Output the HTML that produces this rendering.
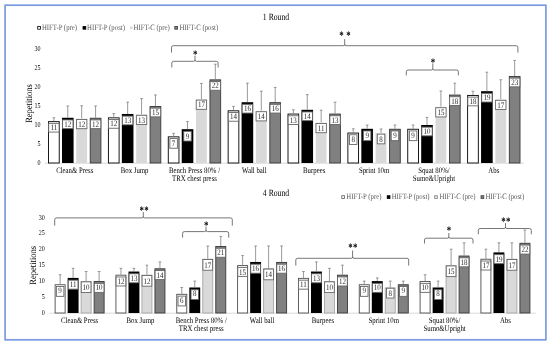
<!DOCTYPE html>
<html><head><meta charset="utf-8"><title>HIFT chart</title>
<style>html,body{margin:0;padding:0;background:#fff}svg{display:block;font-family:"Liberation Serif", serif;text-rendering:geometricPrecision}</style></head>
<body><svg width="550" height="344" viewBox="0 0 550 344">
<rect width="550" height="344" fill="#fff"/>
<rect x="5.1" y="5.2" width="540.8" height="334.6" fill="#fff" stroke="#7a9cdf" stroke-width="1.7"/>
<text transform="translate(276.00,20.30) scale(1.0,1.25)" text-anchor="middle" font-size="7.7" fill="#000">1 Round</text>
<text transform="translate(276.00,196.30) scale(1.0,1.25)" text-anchor="middle" font-size="7.7" fill="#000">4 Round</text>
<line x1="44.8" y1="163.2" x2="523.76" y2="163.2" stroke="#d0d0d0" stroke-width="0.8"/>
<rect x="48.53" y="121.65" width="10.70" height="41.35" fill="#fff" stroke="#000" stroke-width="0.9"/>
<path d="M53.88 121.20V117.78M52.53 117.78H55.23" stroke="#808080" stroke-width="0.8" fill="none"/>
<rect x="48.68" y="123.35"  width="10.40" height="8.70" fill="#fff" stroke="#666" stroke-width="0.9"/>
<text transform="translate(53.88,130.15) scale(1.0,1.2)" text-anchor="middle" font-size="7.0" fill="#262626">11</text>
<rect x="61.98" y="117.78" width="11.60" height="45.22" fill="#000"/>
<path d="M67.78 117.78V106.00M66.44 106.00H69.13" stroke="#808080" stroke-width="0.8" fill="none"/>
<rect x="62.59" y="119.93"  width="10.40" height="8.70" fill="#fff" stroke="#666" stroke-width="0.9"/>
<text transform="translate(67.78,126.73) scale(1.0,1.2)" text-anchor="middle" font-size="7.0" fill="#262626">12</text>
<rect x="76.28" y="118.65" width="10.80" height="44.35" fill="#d9d9d9"/>
<path d="M81.68 118.35V105.81M80.33 105.81H83.03" stroke="#808080" stroke-width="0.8" fill="none"/>
<rect x="76.48" y="119.50"  width="10.40" height="9.20" fill="#fff" stroke="#666" stroke-width="0.9"/>
<text transform="translate(81.68,126.85) scale(1.0,1.2)" text-anchor="middle" font-size="7.0" fill="#262626">12</text>
<rect x="90.23" y="118.23" width="10.70" height="44.77" fill="#808080" stroke="#383838" stroke-width="0.9"/>
<path d="M95.58 117.78V106.00M94.23 106.00H96.93" stroke="#808080" stroke-width="0.8" fill="none"/>
<rect x="90.38" y="119.93"  width="10.40" height="8.70" fill="#fff" stroke="#666" stroke-width="0.9"/>
<text transform="translate(95.58,126.73) scale(1.0,1.2)" text-anchor="middle" font-size="7.0" fill="#262626">12</text>
<rect x="108.40" y="117.85" width="10.70" height="45.15" fill="#fff" stroke="#000" stroke-width="0.9"/>
<path d="M113.75 117.40V113.60M112.40 113.60H115.10" stroke="#808080" stroke-width="0.8" fill="none"/>
<rect x="108.55" y="119.55"  width="10.40" height="8.70" fill="#fff" stroke="#666" stroke-width="0.9"/>
<text transform="translate(113.75,126.35) scale(1.0,1.2)" text-anchor="middle" font-size="7.0" fill="#262626">12</text>
<rect x="121.85" y="113.98" width="11.60" height="49.02" fill="#000"/>
<path d="M127.65 113.98V102.20M126.30 102.20H129.00" stroke="#808080" stroke-width="0.8" fill="none"/>
<rect x="122.45" y="116.13"  width="10.40" height="8.70" fill="#fff" stroke="#666" stroke-width="0.9"/>
<text transform="translate(127.65,122.93) scale(1.0,1.2)" text-anchor="middle" font-size="7.0" fill="#262626">13</text>
<rect x="136.16" y="114.47" width="10.80" height="48.53" fill="#d9d9d9"/>
<path d="M141.56 114.17V98.59M140.21 98.59H142.91" stroke="#808080" stroke-width="0.8" fill="none"/>
<rect x="136.35" y="115.32"  width="10.40" height="9.20" fill="#fff" stroke="#666" stroke-width="0.9"/>
<text transform="translate(141.56,122.67) scale(1.0,1.2)" text-anchor="middle" font-size="7.0" fill="#262626">13</text>
<rect x="150.10" y="106.45" width="10.70" height="56.55" fill="#808080" stroke="#383838" stroke-width="0.9"/>
<path d="M155.45 106.00V94.98M154.10 94.98H156.80" stroke="#808080" stroke-width="0.8" fill="none"/>
<rect x="150.25" y="108.15"  width="10.40" height="8.70" fill="#fff" stroke="#666" stroke-width="0.9"/>
<text transform="translate(155.45,114.95) scale(1.0,1.2)" text-anchor="middle" font-size="7.0" fill="#262626">15</text>
<rect x="168.27" y="136.85" width="10.70" height="26.15" fill="#fff" stroke="#000" stroke-width="0.9"/>
<path d="M173.62 136.40V133.36M172.27 133.36H174.97" stroke="#808080" stroke-width="0.8" fill="none"/>
<rect x="169.87" y="138.55"  width="7.50" height="9.70" fill="#fff" stroke="#666" stroke-width="0.9"/>
<text transform="translate(173.62,145.80) scale(1.0,1.2)" text-anchor="middle" font-size="7.0" fill="#262626">7</text>
<rect x="181.72" y="129.18" width="11.60" height="33.82" fill="#000"/>
<path d="M187.52 129.18V121.58M186.17 121.58H188.87" stroke="#808080" stroke-width="0.8" fill="none"/>
<rect x="183.77" y="131.33"  width="7.50" height="9.70" fill="#fff" stroke="#666" stroke-width="0.9"/>
<text transform="translate(187.52,138.58) scale(1.0,1.2)" text-anchor="middle" font-size="7.0" fill="#262626">9</text>
<rect x="196.02" y="99.27" width="10.80" height="63.73" fill="#d9d9d9"/>
<path d="M201.42 98.97V83.39M200.07 83.39H202.77" stroke="#808080" stroke-width="0.8" fill="none"/>
<rect x="196.22" y="100.12"  width="10.40" height="9.20" fill="#fff" stroke="#666" stroke-width="0.9"/>
<text transform="translate(201.42,107.47) scale(1.0,1.2)" text-anchor="middle" font-size="7.0" fill="#262626">17</text>
<rect x="209.97" y="79.85" width="10.70" height="83.15" fill="#808080" stroke="#383838" stroke-width="0.9"/>
<path d="M215.32 79.40V64.20M213.97 64.20H216.67" stroke="#808080" stroke-width="0.8" fill="none"/>
<rect x="210.12" y="81.55"  width="10.40" height="8.70" fill="#fff" stroke="#666" stroke-width="0.9"/>
<text transform="translate(215.32,88.35) scale(1.0,1.2)" text-anchor="middle" font-size="7.0" fill="#262626">22</text>
<rect x="228.14" y="110.82" width="10.70" height="52.18" fill="#fff" stroke="#000" stroke-width="0.9"/>
<path d="M233.49 110.37V106.38M232.14 106.38H234.84" stroke="#808080" stroke-width="0.8" fill="none"/>
<rect x="228.29" y="112.52"  width="10.40" height="8.70" fill="#fff" stroke="#666" stroke-width="0.9"/>
<text transform="translate(233.49,119.32) scale(1.0,1.2)" text-anchor="middle" font-size="7.0" fill="#262626">14</text>
<rect x="241.59" y="102.20" width="11.60" height="60.80" fill="#000"/>
<path d="M247.39 102.20V83.20M246.04 83.20H248.74" stroke="#808080" stroke-width="0.8" fill="none"/>
<rect x="242.19" y="104.35"  width="10.40" height="8.70" fill="#fff" stroke="#666" stroke-width="0.9"/>
<text transform="translate(247.39,111.15) scale(1.0,1.2)" text-anchor="middle" font-size="7.0" fill="#262626">16</text>
<rect x="255.89" y="110.86" width="10.80" height="52.14" fill="#d9d9d9"/>
<path d="M261.29 110.56V91.18M259.94 91.18H262.64" stroke="#808080" stroke-width="0.8" fill="none"/>
<rect x="256.09" y="111.71"  width="10.40" height="9.20" fill="#fff" stroke="#666" stroke-width="0.9"/>
<text transform="translate(261.29,119.06) scale(1.0,1.2)" text-anchor="middle" font-size="7.0" fill="#262626">14</text>
<rect x="269.84" y="102.65" width="10.70" height="60.35" fill="#808080" stroke="#383838" stroke-width="0.9"/>
<path d="M275.19 102.20V87.38M273.84 87.38H276.55" stroke="#808080" stroke-width="0.8" fill="none"/>
<rect x="270.00" y="104.35"  width="10.40" height="8.70" fill="#fff" stroke="#666" stroke-width="0.9"/>
<text transform="translate(275.19,111.15) scale(1.0,1.2)" text-anchor="middle" font-size="7.0" fill="#262626">16</text>
<rect x="288.01" y="114.05" width="10.70" height="48.95" fill="#fff" stroke="#000" stroke-width="0.9"/>
<path d="M293.37 113.60V109.80M292.01 109.80H294.72" stroke="#808080" stroke-width="0.8" fill="none"/>
<rect x="288.17" y="115.75"  width="10.40" height="8.70" fill="#fff" stroke="#666" stroke-width="0.9"/>
<text transform="translate(293.37,122.55) scale(1.0,1.2)" text-anchor="middle" font-size="7.0" fill="#262626">13</text>
<rect x="301.46" y="109.80" width="11.60" height="53.20" fill="#000"/>
<path d="M307.26 109.80V94.60M305.91 94.60H308.62" stroke="#808080" stroke-width="0.8" fill="none"/>
<rect x="302.06" y="111.95"  width="10.40" height="8.70" fill="#fff" stroke="#666" stroke-width="0.9"/>
<text transform="translate(307.26,118.75) scale(1.0,1.2)" text-anchor="middle" font-size="7.0" fill="#262626">14</text>
<rect x="315.76" y="122.64" width="10.80" height="40.36" fill="#d9d9d9"/>
<path d="M321.17 122.34V110.18M319.81 110.18H322.52" stroke="#808080" stroke-width="0.8" fill="none"/>
<rect x="315.97" y="123.49"  width="10.40" height="9.20" fill="#fff" stroke="#666" stroke-width="0.9"/>
<text transform="translate(321.17,130.84) scale(1.0,1.2)" text-anchor="middle" font-size="7.0" fill="#262626">11</text>
<rect x="329.71" y="114.05" width="10.70" height="48.95" fill="#808080" stroke="#383838" stroke-width="0.9"/>
<path d="M335.06 113.60V102.20M333.71 102.20H336.42" stroke="#808080" stroke-width="0.8" fill="none"/>
<rect x="329.87" y="115.75"  width="10.40" height="8.70" fill="#fff" stroke="#666" stroke-width="0.9"/>
<text transform="translate(335.06,122.55) scale(1.0,1.2)" text-anchor="middle" font-size="7.0" fill="#262626">13</text>
<rect x="347.88" y="133.05" width="10.70" height="29.95" fill="#fff" stroke="#000" stroke-width="0.9"/>
<path d="M353.24 132.60V128.80M351.88 128.80H354.59" stroke="#808080" stroke-width="0.8" fill="none"/>
<rect x="349.49" y="134.75"  width="7.50" height="9.70" fill="#fff" stroke="#666" stroke-width="0.9"/>
<text transform="translate(353.24,142.00) scale(1.0,1.2)" text-anchor="middle" font-size="7.0" fill="#262626">8</text>
<rect x="361.33" y="128.80" width="11.60" height="34.20" fill="#000"/>
<path d="M367.13 128.80V125.00M365.78 125.00H368.49" stroke="#808080" stroke-width="0.8" fill="none"/>
<rect x="363.38" y="130.95"  width="7.50" height="9.70" fill="#fff" stroke="#666" stroke-width="0.9"/>
<text transform="translate(367.13,138.20) scale(1.0,1.2)" text-anchor="middle" font-size="7.0" fill="#262626">9</text>
<rect x="375.63" y="133.28" width="10.80" height="29.72" fill="#d9d9d9"/>
<path d="M381.04 132.98V128.99M379.69 128.99H382.39" stroke="#808080" stroke-width="0.8" fill="none"/>
<rect x="377.29" y="134.13"  width="7.50" height="9.70" fill="#fff" stroke="#666" stroke-width="0.9"/>
<text transform="translate(381.04,142.38) scale(1.0,1.2)" text-anchor="middle" font-size="7.0" fill="#262626">8</text>
<rect x="389.58" y="129.25" width="10.70" height="33.75" fill="#808080" stroke="#383838" stroke-width="0.9"/>
<path d="M394.94 128.80V125.00M393.58 125.00H396.29" stroke="#808080" stroke-width="0.8" fill="none"/>
<rect x="391.19" y="130.95"  width="7.50" height="9.70" fill="#fff" stroke="#666" stroke-width="0.9"/>
<text transform="translate(394.94,138.20) scale(1.0,1.2)" text-anchor="middle" font-size="7.0" fill="#262626">9</text>
<rect x="407.75" y="129.25" width="10.70" height="33.75" fill="#fff" stroke="#000" stroke-width="0.9"/>
<path d="M413.11 128.80V125.00M411.75 125.00H414.46" stroke="#808080" stroke-width="0.8" fill="none"/>
<rect x="409.36" y="130.95"  width="7.50" height="9.70" fill="#fff" stroke="#666" stroke-width="0.9"/>
<text transform="translate(413.11,138.20) scale(1.0,1.2)" text-anchor="middle" font-size="7.0" fill="#262626">9</text>
<rect x="421.20" y="125.00" width="11.60" height="38.00" fill="#000"/>
<path d="M427.00 125.00V117.40M425.65 117.40H428.36" stroke="#808080" stroke-width="0.8" fill="none"/>
<rect x="421.81" y="127.15"  width="10.40" height="8.70" fill="#fff" stroke="#666" stroke-width="0.9"/>
<text transform="translate(427.00,133.95) scale(1.0,1.2)" text-anchor="middle" font-size="7.0" fill="#262626">10</text>
<rect x="435.50" y="106.87" width="10.80" height="56.13" fill="#d9d9d9"/>
<path d="M440.91 106.57V90.99M439.56 90.99H442.26" stroke="#808080" stroke-width="0.8" fill="none"/>
<rect x="435.71" y="107.72"  width="10.40" height="9.20" fill="#fff" stroke="#666" stroke-width="0.9"/>
<text transform="translate(440.91,115.07) scale(1.0,1.2)" text-anchor="middle" font-size="7.0" fill="#262626">15</text>
<rect x="449.45" y="95.05" width="10.70" height="67.95" fill="#808080" stroke="#383838" stroke-width="0.9"/>
<path d="M454.81 94.60V83.20M453.45 83.20H456.16" stroke="#808080" stroke-width="0.8" fill="none"/>
<rect x="449.61" y="96.75"  width="10.40" height="8.70" fill="#fff" stroke="#666" stroke-width="0.9"/>
<text transform="translate(454.81,103.55) scale(1.0,1.2)" text-anchor="middle" font-size="7.0" fill="#262626">18</text>
<rect x="467.62" y="95.43" width="10.70" height="67.57" fill="#fff" stroke="#000" stroke-width="0.9"/>
<path d="M472.98 94.98V91.18M471.62 91.18H474.33" stroke="#808080" stroke-width="0.8" fill="none"/>
<rect x="467.78" y="97.13"  width="10.40" height="8.70" fill="#fff" stroke="#666" stroke-width="0.9"/>
<text transform="translate(472.98,103.93) scale(1.0,1.2)" text-anchor="middle" font-size="7.0" fill="#262626">18</text>
<rect x="481.07" y="91.18" width="11.60" height="71.82" fill="#000"/>
<path d="M486.88 91.18V72.18M485.52 72.18H488.23" stroke="#808080" stroke-width="0.8" fill="none"/>
<rect x="481.68" y="93.33"  width="10.40" height="8.70" fill="#fff" stroke="#666" stroke-width="0.9"/>
<text transform="translate(486.88,100.13) scale(1.0,1.2)" text-anchor="middle" font-size="7.0" fill="#262626">19</text>
<rect x="495.38" y="99.46" width="10.80" height="63.54" fill="#d9d9d9"/>
<path d="M500.78 99.16V79.78M499.43 79.78H502.13" stroke="#808080" stroke-width="0.8" fill="none"/>
<rect x="495.58" y="100.31"  width="10.40" height="9.20" fill="#fff" stroke="#666" stroke-width="0.9"/>
<text transform="translate(500.78,107.66) scale(1.0,1.2)" text-anchor="middle" font-size="7.0" fill="#262626">17</text>
<rect x="509.32" y="76.43" width="10.70" height="86.57" fill="#808080" stroke="#383838" stroke-width="0.9"/>
<path d="M514.67 75.98V60.40M513.32 60.40H516.02" stroke="#808080" stroke-width="0.8" fill="none"/>
<rect x="509.47" y="78.13"  width="10.40" height="8.70" fill="#fff" stroke="#666" stroke-width="0.9"/>
<text transform="translate(514.67,84.93) scale(1.0,1.2)" text-anchor="middle" font-size="7.0" fill="#262626">23</text>
<line x1="49.2" y1="313.2" x2="535.84" y2="313.2" stroke="#d0d0d0" stroke-width="0.8"/>
<rect x="55.12" y="284.74" width="10.00" height="28.26" fill="#fff" stroke="#4d4d4d" stroke-width="0.9"/>
<path d="M60.12 284.29V274.72M58.77 274.72H61.47" stroke="#808080" stroke-width="0.8" fill="none"/>
<rect x="56.37" y="286.54"  width="7.50" height="9.80" fill="#fff" stroke="#666" stroke-width="0.9"/>
<text transform="translate(60.12,293.29) scale(1.0,1.2)" text-anchor="middle" font-size="7.0" fill="#262626">9</text>
<rect x="67.67" y="277.91" width="10.90" height="35.09" fill="#000"/>
<path d="M73.12 277.91V268.34M71.77 268.34H74.47" stroke="#808080" stroke-width="0.8" fill="none"/>
<rect x="68.27" y="280.16"  width="9.70" height="9.00" fill="#fff" stroke="#666" stroke-width="0.9"/>
<text transform="translate(73.12,287.26) scale(1.0,1.2)" text-anchor="middle" font-size="7.0" fill="#262626">11</text>
<rect x="81.12" y="281.55" width="10.00" height="31.45" fill="#d9d9d9" stroke="#a6a6a6" stroke-width="0.9"/>
<path d="M86.12 281.10V271.53M84.77 271.53H87.47" stroke="#808080" stroke-width="0.8" fill="none"/>
<rect x="81.27" y="281.85"  width="9.70" height="10.70" fill="#fff" stroke="#666" stroke-width="0.9"/>
<text transform="translate(86.12,290.00) scale(1.0,1.2)" text-anchor="middle" font-size="7.0" fill="#262626">10</text>
<rect x="94.12" y="281.55" width="10.00" height="31.45" fill="#808080" stroke="#383838" stroke-width="0.9"/>
<path d="M99.12 281.10V271.53M97.77 271.53H100.47" stroke="#808080" stroke-width="0.8" fill="none"/>
<rect x="94.27" y="283.35"  width="9.70" height="9.00" fill="#fff" stroke="#666" stroke-width="0.9"/>
<text transform="translate(99.12,290.45) scale(1.0,1.2)" text-anchor="middle" font-size="7.0" fill="#262626">10</text>
<rect x="115.94" y="275.17" width="10.00" height="37.83" fill="#fff" stroke="#4d4d4d" stroke-width="0.9"/>
<path d="M120.94 274.72V268.34M119.59 268.34H122.29" stroke="#808080" stroke-width="0.8" fill="none"/>
<rect x="116.09" y="276.97"  width="9.70" height="9.00" fill="#fff" stroke="#666" stroke-width="0.9"/>
<text transform="translate(120.94,284.07) scale(1.0,1.2)" text-anchor="middle" font-size="7.0" fill="#262626">12</text>
<rect x="128.50" y="271.53" width="10.90" height="41.47" fill="#000"/>
<path d="M133.94 271.53V268.34M132.59 268.34H135.29" stroke="#808080" stroke-width="0.8" fill="none"/>
<rect x="129.09" y="273.78"  width="9.70" height="9.00" fill="#fff" stroke="#666" stroke-width="0.9"/>
<text transform="translate(133.94,280.88) scale(1.0,1.2)" text-anchor="middle" font-size="7.0" fill="#262626">13</text>
<rect x="141.94" y="275.17" width="10.00" height="37.83" fill="#d9d9d9" stroke="#a6a6a6" stroke-width="0.9"/>
<path d="M146.94 274.72V265.15M145.59 265.15H148.29" stroke="#808080" stroke-width="0.8" fill="none"/>
<rect x="142.09" y="275.47"  width="9.70" height="10.70" fill="#fff" stroke="#666" stroke-width="0.9"/>
<text transform="translate(146.94,283.62) scale(1.0,1.2)" text-anchor="middle" font-size="7.0" fill="#262626">12</text>
<rect x="154.94" y="268.79" width="10.00" height="44.21" fill="#808080" stroke="#383838" stroke-width="0.9"/>
<path d="M159.94 268.34V261.96M158.59 261.96H161.29" stroke="#808080" stroke-width="0.8" fill="none"/>
<rect x="155.09" y="270.59"  width="9.70" height="9.00" fill="#fff" stroke="#666" stroke-width="0.9"/>
<text transform="translate(159.94,277.69) scale(1.0,1.2)" text-anchor="middle" font-size="7.0" fill="#262626">14</text>
<rect x="176.77" y="294.31" width="10.00" height="18.69" fill="#fff" stroke="#4d4d4d" stroke-width="0.9"/>
<path d="M181.77 293.86V287.48M180.42 287.48H183.12" stroke="#808080" stroke-width="0.8" fill="none"/>
<rect x="178.02" y="296.11"  width="7.50" height="9.80" fill="#fff" stroke="#666" stroke-width="0.9"/>
<text transform="translate(181.77,302.86) scale(1.0,1.2)" text-anchor="middle" font-size="7.0" fill="#262626">6</text>
<rect x="189.32" y="287.48" width="10.90" height="25.52" fill="#000"/>
<path d="M194.77 287.48V281.10M193.42 281.10H196.12" stroke="#808080" stroke-width="0.8" fill="none"/>
<rect x="191.02" y="289.73"  width="7.50" height="9.80" fill="#fff" stroke="#666" stroke-width="0.9"/>
<text transform="translate(194.77,296.48) scale(1.0,1.2)" text-anchor="middle" font-size="7.0" fill="#262626">8</text>
<rect x="202.77" y="259.22" width="10.00" height="53.78" fill="#d9d9d9" stroke="#a6a6a6" stroke-width="0.9"/>
<path d="M207.77 258.77V246.01M206.42 246.01H209.12" stroke="#808080" stroke-width="0.8" fill="none"/>
<rect x="202.92" y="259.52"  width="9.70" height="10.70" fill="#fff" stroke="#666" stroke-width="0.9"/>
<text transform="translate(207.77,267.67) scale(1.0,1.2)" text-anchor="middle" font-size="7.0" fill="#262626">17</text>
<rect x="215.77" y="246.46" width="10.00" height="66.54" fill="#808080" stroke="#383838" stroke-width="0.9"/>
<path d="M220.77 246.01V236.44M219.42 236.44H222.12" stroke="#808080" stroke-width="0.8" fill="none"/>
<rect x="215.92" y="248.26"  width="9.70" height="9.00" fill="#fff" stroke="#666" stroke-width="0.9"/>
<text transform="translate(220.77,255.36) scale(1.0,1.2)" text-anchor="middle" font-size="7.0" fill="#262626">21</text>
<rect x="237.61" y="265.60" width="10.00" height="47.40" fill="#fff" stroke="#4d4d4d" stroke-width="0.9"/>
<path d="M242.61 265.15V255.58M241.26 255.58H243.96" stroke="#808080" stroke-width="0.8" fill="none"/>
<rect x="237.75" y="267.40"  width="9.70" height="9.00" fill="#fff" stroke="#666" stroke-width="0.9"/>
<text transform="translate(242.61,274.50) scale(1.0,1.2)" text-anchor="middle" font-size="7.0" fill="#262626">15</text>
<rect x="250.16" y="261.96" width="10.90" height="51.04" fill="#000"/>
<path d="M255.61 261.96V246.01M254.26 246.01H256.96" stroke="#808080" stroke-width="0.8" fill="none"/>
<rect x="250.75" y="264.21"  width="9.70" height="9.00" fill="#fff" stroke="#666" stroke-width="0.9"/>
<text transform="translate(255.61,271.31) scale(1.0,1.2)" text-anchor="middle" font-size="7.0" fill="#262626">16</text>
<rect x="263.61" y="268.79" width="10.00" height="44.21" fill="#d9d9d9" stroke="#a6a6a6" stroke-width="0.9"/>
<path d="M268.61 268.34V246.01M267.25 246.01H269.96" stroke="#808080" stroke-width="0.8" fill="none"/>
<rect x="263.75" y="269.09"  width="9.70" height="10.70" fill="#fff" stroke="#666" stroke-width="0.9"/>
<text transform="translate(268.61,277.24) scale(1.0,1.2)" text-anchor="middle" font-size="7.0" fill="#262626">14</text>
<rect x="276.61" y="262.41" width="10.00" height="50.59" fill="#808080" stroke="#383838" stroke-width="0.9"/>
<path d="M281.61 261.96V246.01M280.25 246.01H282.96" stroke="#808080" stroke-width="0.8" fill="none"/>
<rect x="276.75" y="264.21"  width="9.70" height="9.00" fill="#fff" stroke="#666" stroke-width="0.9"/>
<text transform="translate(281.61,271.31) scale(1.0,1.2)" text-anchor="middle" font-size="7.0" fill="#262626">16</text>
<rect x="298.44" y="278.36" width="10.00" height="34.64" fill="#fff" stroke="#4d4d4d" stroke-width="0.9"/>
<path d="M303.44 277.91V271.53M302.08 271.53H304.79" stroke="#808080" stroke-width="0.8" fill="none"/>
<rect x="298.58" y="280.16"  width="9.70" height="9.00" fill="#fff" stroke="#666" stroke-width="0.9"/>
<text transform="translate(303.44,287.26) scale(1.0,1.2)" text-anchor="middle" font-size="7.0" fill="#262626">11</text>
<rect x="310.99" y="271.53" width="10.90" height="41.47" fill="#000"/>
<path d="M316.44 271.53V261.96M315.08 261.96H317.79" stroke="#808080" stroke-width="0.8" fill="none"/>
<rect x="311.58" y="273.78"  width="9.70" height="9.00" fill="#fff" stroke="#666" stroke-width="0.9"/>
<text transform="translate(316.44,280.88) scale(1.0,1.2)" text-anchor="middle" font-size="7.0" fill="#262626">13</text>
<rect x="324.44" y="281.55" width="10.00" height="31.45" fill="#d9d9d9" stroke="#a6a6a6" stroke-width="0.9"/>
<path d="M329.44 281.10V268.34M328.08 268.34H330.79" stroke="#808080" stroke-width="0.8" fill="none"/>
<rect x="324.58" y="281.85"  width="9.70" height="10.70" fill="#fff" stroke="#666" stroke-width="0.9"/>
<text transform="translate(329.44,290.00) scale(1.0,1.2)" text-anchor="middle" font-size="7.0" fill="#262626">10</text>
<rect x="337.44" y="275.17" width="10.00" height="37.83" fill="#808080" stroke="#383838" stroke-width="0.9"/>
<path d="M342.44 274.72V265.15M341.08 265.15H343.79" stroke="#808080" stroke-width="0.8" fill="none"/>
<rect x="337.58" y="276.97"  width="9.70" height="9.00" fill="#fff" stroke="#666" stroke-width="0.9"/>
<text transform="translate(342.44,284.07) scale(1.0,1.2)" text-anchor="middle" font-size="7.0" fill="#262626">12</text>
<rect x="359.26" y="284.74" width="10.00" height="28.26" fill="#fff" stroke="#4d4d4d" stroke-width="0.9"/>
<path d="M364.26 284.29V281.10M362.91 281.10H365.62" stroke="#808080" stroke-width="0.8" fill="none"/>
<rect x="360.51" y="286.54"  width="7.50" height="9.80" fill="#fff" stroke="#666" stroke-width="0.9"/>
<text transform="translate(364.26,293.29) scale(1.0,1.2)" text-anchor="middle" font-size="7.0" fill="#262626">9</text>
<rect x="371.81" y="281.10" width="10.90" height="31.90" fill="#000"/>
<path d="M377.26 281.10V277.91M375.91 277.91H378.62" stroke="#808080" stroke-width="0.8" fill="none"/>
<rect x="372.41" y="283.35"  width="9.70" height="9.00" fill="#fff" stroke="#666" stroke-width="0.9"/>
<text transform="translate(377.26,290.45) scale(1.0,1.2)" text-anchor="middle" font-size="7.0" fill="#262626">10</text>
<rect x="385.26" y="287.93" width="10.00" height="25.07" fill="#d9d9d9" stroke="#a6a6a6" stroke-width="0.9"/>
<path d="M390.26 287.48V281.10M388.91 281.10H391.62" stroke="#808080" stroke-width="0.8" fill="none"/>
<rect x="386.51" y="288.23"  width="7.50" height="9.80" fill="#fff" stroke="#666" stroke-width="0.9"/>
<text transform="translate(390.26,296.48) scale(1.0,1.2)" text-anchor="middle" font-size="7.0" fill="#262626">8</text>
<rect x="398.26" y="284.74" width="10.00" height="28.26" fill="#808080" stroke="#383838" stroke-width="0.9"/>
<path d="M403.26 284.29V281.10M401.91 281.10H404.62" stroke="#808080" stroke-width="0.8" fill="none"/>
<rect x="399.51" y="286.54"  width="7.50" height="9.80" fill="#fff" stroke="#666" stroke-width="0.9"/>
<text transform="translate(403.26,293.29) scale(1.0,1.2)" text-anchor="middle" font-size="7.0" fill="#262626">9</text>
<rect x="420.09" y="281.55" width="10.00" height="31.45" fill="#fff" stroke="#4d4d4d" stroke-width="0.9"/>
<path d="M425.09 281.10V274.72M423.74 274.72H426.44" stroke="#808080" stroke-width="0.8" fill="none"/>
<rect x="420.24" y="283.35"  width="9.70" height="9.00" fill="#fff" stroke="#666" stroke-width="0.9"/>
<text transform="translate(425.09,290.45) scale(1.0,1.2)" text-anchor="middle" font-size="7.0" fill="#262626">10</text>
<rect x="432.64" y="287.48" width="10.90" height="25.52" fill="#000"/>
<path d="M438.09 287.48V281.10M436.74 281.10H439.44" stroke="#808080" stroke-width="0.8" fill="none"/>
<rect x="434.34" y="289.73"  width="7.50" height="9.80" fill="#fff" stroke="#666" stroke-width="0.9"/>
<text transform="translate(438.09,296.48) scale(1.0,1.2)" text-anchor="middle" font-size="7.0" fill="#262626">8</text>
<rect x="446.09" y="265.60" width="10.00" height="47.40" fill="#d9d9d9" stroke="#a6a6a6" stroke-width="0.9"/>
<path d="M451.09 265.15V249.20M449.74 249.20H452.44" stroke="#808080" stroke-width="0.8" fill="none"/>
<rect x="446.24" y="265.90"  width="9.70" height="10.70" fill="#fff" stroke="#666" stroke-width="0.9"/>
<text transform="translate(451.09,274.05) scale(1.0,1.2)" text-anchor="middle" font-size="7.0" fill="#262626">15</text>
<rect x="459.09" y="256.03" width="10.00" height="56.97" fill="#808080" stroke="#383838" stroke-width="0.9"/>
<path d="M464.09 255.58V242.82M462.74 242.82H465.44" stroke="#808080" stroke-width="0.8" fill="none"/>
<rect x="459.24" y="257.83"  width="9.70" height="9.00" fill="#fff" stroke="#666" stroke-width="0.9"/>
<text transform="translate(464.09,264.93) scale(1.0,1.2)" text-anchor="middle" font-size="7.0" fill="#262626">18</text>
<rect x="480.92" y="259.22" width="10.00" height="53.78" fill="#fff" stroke="#4d4d4d" stroke-width="0.9"/>
<path d="M485.92 258.77V249.20M484.57 249.20H487.27" stroke="#808080" stroke-width="0.8" fill="none"/>
<rect x="481.07" y="261.02"  width="9.70" height="9.00" fill="#fff" stroke="#666" stroke-width="0.9"/>
<text transform="translate(485.92,268.12) scale(1.0,1.2)" text-anchor="middle" font-size="7.0" fill="#262626">17</text>
<rect x="493.47" y="252.39" width="10.90" height="60.61" fill="#000"/>
<path d="M498.92 252.39V242.82M497.57 242.82H500.27" stroke="#808080" stroke-width="0.8" fill="none"/>
<rect x="494.07" y="254.64"  width="9.70" height="9.00" fill="#fff" stroke="#666" stroke-width="0.9"/>
<text transform="translate(498.92,261.74) scale(1.0,1.2)" text-anchor="middle" font-size="7.0" fill="#262626">19</text>
<rect x="506.92" y="259.22" width="10.00" height="53.78" fill="#d9d9d9" stroke="#a6a6a6" stroke-width="0.9"/>
<path d="M511.92 258.77V242.82M510.57 242.82H513.27" stroke="#808080" stroke-width="0.8" fill="none"/>
<rect x="507.07" y="259.52"  width="9.70" height="10.70" fill="#fff" stroke="#666" stroke-width="0.9"/>
<text transform="translate(511.92,267.67) scale(1.0,1.2)" text-anchor="middle" font-size="7.0" fill="#262626">17</text>
<rect x="519.92" y="243.27" width="10.00" height="69.73" fill="#808080" stroke="#383838" stroke-width="0.9"/>
<path d="M524.92 242.82V230.06M523.57 230.06H526.27" stroke="#808080" stroke-width="0.8" fill="none"/>
<rect x="520.08" y="245.07"  width="9.70" height="9.00" fill="#fff" stroke="#666" stroke-width="0.9"/>
<text transform="translate(524.92,252.17) scale(1.0,1.2)" text-anchor="middle" font-size="7.0" fill="#262626">22</text>
<text transform="translate(40.40,165.20) scale(1.0,1.25)" text-anchor="end" font-size="6.0" fill="#000">0</text>
<text transform="translate(40.40,146.20) scale(1.0,1.25)" text-anchor="end" font-size="6.0" fill="#000">5</text>
<text transform="translate(40.40,127.20) scale(1.0,1.25)" text-anchor="end" font-size="6.0" fill="#000">10</text>
<text transform="translate(40.40,108.20) scale(1.0,1.25)" text-anchor="end" font-size="6.0" fill="#000">15</text>
<text transform="translate(40.40,89.20) scale(1.0,1.25)" text-anchor="end" font-size="6.0" fill="#000">20</text>
<text transform="translate(40.40,70.20) scale(1.0,1.25)" text-anchor="end" font-size="6.0" fill="#000">25</text>
<text transform="translate(40.40,51.20) scale(1.0,1.25)" text-anchor="end" font-size="6.0" fill="#000">30</text>
<text transform="translate(44.80,315.20) scale(1.0,1.25)" text-anchor="end" font-size="6.0" fill="#000">0</text>
<text transform="translate(44.80,299.25) scale(1.0,1.25)" text-anchor="end" font-size="6.0" fill="#000">5</text>
<text transform="translate(44.80,283.30) scale(1.0,1.25)" text-anchor="end" font-size="6.0" fill="#000">10</text>
<text transform="translate(44.80,267.35) scale(1.0,1.25)" text-anchor="end" font-size="6.0" fill="#000">15</text>
<text transform="translate(44.80,251.40) scale(1.0,1.25)" text-anchor="end" font-size="6.0" fill="#000">20</text>
<text transform="translate(44.80,235.45) scale(1.0,1.25)" text-anchor="end" font-size="6.0" fill="#000">25</text>
<text transform="translate(44.80,219.50) scale(1.0,1.25)" text-anchor="end" font-size="6.0" fill="#000">30</text>
<text transform="translate(74.73,173.00) scale(1.0,1.22)" text-anchor="middle" font-size="6.8" fill="#000">Clean&amp; Press</text>
<text transform="translate(134.60,173.00) scale(1.0,1.22)" text-anchor="middle" font-size="6.8" fill="#000">Box Jump</text>
<text transform="translate(194.47,173.00) scale(1.0,1.22)" text-anchor="middle" font-size="6.8" fill="#000">Bench Press 80% /</text>
<text transform="translate(194.47,181.20) scale(1.0,1.22)" text-anchor="middle" font-size="6.8" fill="#000">TRX chest press</text>
<text transform="translate(254.34,173.00) scale(1.0,1.22)" text-anchor="middle" font-size="6.8" fill="#000">Wall ball</text>
<text transform="translate(314.21,173.00) scale(1.0,1.22)" text-anchor="middle" font-size="6.8" fill="#000">Burpees</text>
<text transform="translate(374.08,173.00) scale(1.0,1.22)" text-anchor="middle" font-size="6.8" fill="#000">Sprint 10m</text>
<text transform="translate(433.95,173.00) scale(1.0,1.22)" text-anchor="middle" font-size="6.8" fill="#000">Squat 80%/</text>
<text transform="translate(433.95,181.20) scale(1.0,1.22)" text-anchor="middle" font-size="6.8" fill="#000">Sumo&amp;Upright</text>
<text transform="translate(493.82,173.00) scale(1.0,1.22)" text-anchor="middle" font-size="6.8" fill="#000">Abs</text>
<text transform="translate(79.62,322.50) scale(1.0,1.22)" text-anchor="middle" font-size="6.8" fill="#000">Clean&amp; Press</text>
<text transform="translate(140.44,322.50) scale(1.0,1.22)" text-anchor="middle" font-size="6.8" fill="#000">Box Jump</text>
<text transform="translate(201.27,322.50) scale(1.0,1.22)" text-anchor="middle" font-size="6.8" fill="#000">Bench Press 80% /</text>
<text transform="translate(201.27,330.70) scale(1.0,1.22)" text-anchor="middle" font-size="6.8" fill="#000">TRX chest press</text>
<text transform="translate(262.11,322.50) scale(1.0,1.22)" text-anchor="middle" font-size="6.8" fill="#000">Wall ball</text>
<text transform="translate(322.94,322.50) scale(1.0,1.22)" text-anchor="middle" font-size="6.8" fill="#000">Burpees</text>
<text transform="translate(383.76,322.50) scale(1.0,1.22)" text-anchor="middle" font-size="6.8" fill="#000">Sprint 10m</text>
<text transform="translate(444.59,322.50) scale(1.0,1.22)" text-anchor="middle" font-size="6.8" fill="#000">Squat 80%/</text>
<text transform="translate(444.59,330.70) scale(1.0,1.22)" text-anchor="middle" font-size="6.8" fill="#000">Sumo&amp;Upright</text>
<text transform="translate(505.42,322.50) scale(1.0,1.22)" text-anchor="middle" font-size="6.8" fill="#000">Abs</text>
<rect x="37.70" y="26.40" width="2.8" height="2.8" fill="#ffffff" stroke="#000" stroke-width="0.8"/>
<text transform="translate(41.90,30.00) scale(1.0,1.2)" text-anchor="start" font-size="6.8" fill="#595959">HIFT-P (pre)</text>
<rect x="83.00" y="26.40" width="2.8" height="2.8" fill="#000000" stroke="#000" stroke-width="0.8"/>
<text transform="translate(87.10,30.00) scale(1.0,1.2)" text-anchor="start" font-size="6.8" fill="#595959">HIFT-P (post)</text>
<rect x="130.00" y="26.60" width="2.6" height="2.6" fill="#d9d9d9"/>
<text transform="translate(133.60,30.00) scale(1.0,1.2)" text-anchor="start" font-size="6.8" fill="#595959">HIFT-C (pre)</text>
<rect x="174.80" y="26.40" width="2.8" height="2.8" fill="#808080" stroke="#404040" stroke-width="0.8"/>
<text transform="translate(179.40,30.00) scale(1.0,1.2)" text-anchor="start" font-size="6.8" fill="#595959">HIFT-C (post)</text>
<rect x="341.80" y="195.70" width="2.8" height="2.8" fill="#ffffff" stroke="#595959" stroke-width="0.8"/>
<text transform="translate(346.30,199.30) scale(1.0,1.2)" text-anchor="start" font-size="6.8" fill="#595959">HIFT-P (pre)</text>
<rect x="387.20" y="195.70" width="2.8" height="2.8" fill="#000000" stroke="#000" stroke-width="0.8"/>
<text transform="translate(391.70,199.30) scale(1.0,1.2)" text-anchor="start" font-size="6.8" fill="#595959">HIFT-P (post)</text>
<rect x="434.60" y="195.70" width="2.8" height="2.8" fill="#d9d9d9" stroke="#8c8c8c" stroke-width="0.8"/>
<text transform="translate(439.40,199.30) scale(1.0,1.2)" text-anchor="start" font-size="6.8" fill="#595959">HIFT-C (pre)</text>
<rect x="481.00" y="195.70" width="2.8" height="2.8" fill="#808080" stroke="#404040" stroke-width="0.8"/>
<text transform="translate(485.40,199.30) scale(1.0,1.2)" text-anchor="start" font-size="6.8" fill="#595959">HIFT-C (post)</text>
<text transform="translate(32.2,103.5) rotate(-90) scale(1,1.12)" text-anchor="middle" font-size="8.5" fill="#000">Repetitions</text>
<text transform="translate(36.2,265.3) rotate(-90) scale(1,1.12)" text-anchor="middle" font-size="8.5" fill="#000">Repetitions</text>
<path d="M171.5 52.6V47.5Q171.5 45.7 173.3 45.7H343.3Q344.7 45.7 344.7 44.300000000000004V39.1M344.7 44.300000000000004Q344.7 45.7 346.09999999999997 45.7H516.1Q517.9 45.7 517.9 47.5V52.6" stroke="#4a4a4a" stroke-width="0.75" fill="none"/>
<text transform="translate(345.075,39.20) scale(1,1.3)" text-anchor="middle" font-size="8.8" font-weight="bold" letter-spacing="0.15" fill="#000">* *</text>
<path d="M171.8 67.5V63.099999999999994Q171.8 61.3 173.60000000000002 61.3H193.6Q195 61.3 195 59.9V55.7M195 59.9Q195 61.3 196.4 61.3H216.29999999999998Q218.1 61.3 218.1 63.099999999999994V67.5" stroke="#4a4a4a" stroke-width="0.75" fill="none"/>
<text transform="translate(195.3,58.20) scale(1,1.3)" text-anchor="middle" font-size="8.8" font-weight="bold" letter-spacing="0.35" fill="#000">*</text>
<path d="M406.3 75.4V71.8Q406.3 70 408.1 70H431.40000000000003Q432.8 70 432.8 68.6V63.4M432.8 68.6Q432.8 70 434.2 70H456.59999999999997Q458.4 70 458.4 71.8V75.4" stroke="#4a4a4a" stroke-width="0.75" fill="none"/>
<text transform="translate(433.1,66.30) scale(1,1.3)" text-anchor="middle" font-size="8.8" font-weight="bold" letter-spacing="0.35" fill="#000">*</text>
<path d="M54.7 225.6V219.70000000000002Q54.7 217.9 56.5 217.9H141.9Q143.3 217.9 143.3 216.5V212M143.3 216.5Q143.3 217.9 144.70000000000002 217.9H230.5Q232.3 217.9 232.3 219.70000000000002V225.6" stroke="#4a4a4a" stroke-width="0.75" fill="none"/>
<text transform="translate(144.175,213.80) scale(1,1.3)" text-anchor="middle" font-size="8.8" font-weight="bold" letter-spacing="0.35" fill="#000">**</text>
<path d="M182.6 237.6V233.4Q182.6 231.6 184.4 231.6H204.6Q206 231.6 206 230.2V226.4M206 230.2Q206 231.6 207.4 231.6H226.89999999999998Q228.7 231.6 228.7 233.4V237.6" stroke="#4a4a4a" stroke-width="0.75" fill="none"/>
<text transform="translate(206.3,228.70) scale(1,1.3)" text-anchor="middle" font-size="8.8" font-weight="bold" letter-spacing="0.35" fill="#000">*</text>
<path d="M295.8 265.6V260.1Q295.8 258.3 297.6 258.3H351.20000000000005Q352.6 258.3 352.6 256.90000000000003V250.5M352.6 256.90000000000003Q352.6 258.3 354.0 258.3H406.9Q408.7 258.3 408.7 260.1V265.6" stroke="#4a4a4a" stroke-width="0.75" fill="none"/>
<text transform="translate(353.07500000000005,251.10) scale(1,1.3)" text-anchor="middle" font-size="8.8" font-weight="bold" letter-spacing="0.35" fill="#000">**</text>
<path d="M424.5 243.5V240.0Q424.5 238.2 426.3 238.2H447.40000000000003Q448.8 238.2 448.8 236.79999999999998V233M448.8 236.79999999999998Q448.8 238.2 450.2 238.2H471.2Q473 238.2 473 240.0V243.5" stroke="#4a4a4a" stroke-width="0.75" fill="none"/>
<text transform="translate(449.1,234.30) scale(1,1.3)" text-anchor="middle" font-size="8.8" font-weight="bold" letter-spacing="0.35" fill="#000">*</text>
<path d="M478.3 234.3V230.3Q478.3 228.5 480.1 228.5H504.1Q505.5 228.5 505.5 227.1V223.2M505.5 227.1Q505.5 228.5 506.9 228.5H529.5Q531.3 228.5 531.3 230.3V234.3" stroke="#4a4a4a" stroke-width="0.75" fill="none"/>
<text transform="translate(505.975,224.80) scale(1,1.3)" text-anchor="middle" font-size="8.8" font-weight="bold" letter-spacing="0.35" fill="#000">**</text>
</svg></body></html>
